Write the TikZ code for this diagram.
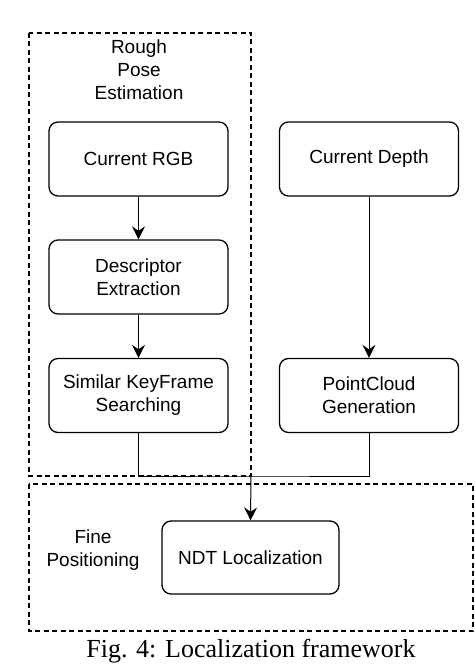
\documentclass[tikz,border=0pt]{standalone}
\usepackage{fontspec}
\setmainfont{Liberation Serif}
\newfontfamily\boxfont{Liberation Sans}
\usetikzlibrary{arrows.meta}
\begin{document}
\begin{tikzpicture}[x=1pt,y=-1pt,
  stepbox/.style={draw,line width=1.3pt,rounded corners=9pt,minimum width=179pt,minimum height=74pt,
    align=center,font=\boxfont\fontsize{19}{23}\selectfont,inner sep=0pt},
  grouptext/.style={align=center,font=\boxfont\fontsize{19}{23}\selectfont,inner sep=0pt},
  groupbox/.style={draw,line width=1.1pt,dash pattern=on 5pt off 3.5pt},
  arr/.style={-{Stealth[length=13pt,width=13pt,inset=4.5pt]},line width=1.5pt},
  thinarr/.style={-{Stealth[length=13pt,width=13pt,inset=4.5pt]},line width=1pt},
  conn/.style={line width=1pt}]
\useasboundingbox (0,0) rectangle (474,668);
\draw[groupbox] (29,33) rectangle (251,476);
\draw[groupbox] (29,484) rectangle (473,631);
\node[grouptext] (rough) at (139,70) {Rough\\Pose\\Estimation};
\node[grouptext] (fine) at (93,550) {Fine\\Positioning};
\node[stepbox] (rgb) at (138.5,159) {Current RGB};
\node[stepbox] (depth) at (369,159) {Current Depth};
\node[stepbox] (desc) at (138.5,277) {Descriptor\\Extraction};
\node[stepbox] (skf) at (138.5,395.5) {Similar KeyFrame\\Searching};
\node[stepbox] (pc) at (369,395.5) {PointCloud\\Generation};
\node[stepbox,minimum width=177pt,minimum height=73pt] (ndt) at (250.5,557.5) {NDT Localization};
\coordinate (join) at (251,476);
\draw[arr] (rgb) -- (desc);
\draw[arr] (desc) -- (skf);
\draw[thinarr] (depth) -- (pc);
\draw[conn] (skf.south) |- (join) -| (pc.south);
\draw[thinarr] (join) -- (ndt.north);
\node[font=\fontsize{26}{30}\selectfont,inner sep=0pt] (cap) at (251,651) {Fig. 4: Localization framework};
\end{tikzpicture}
\end{document}
